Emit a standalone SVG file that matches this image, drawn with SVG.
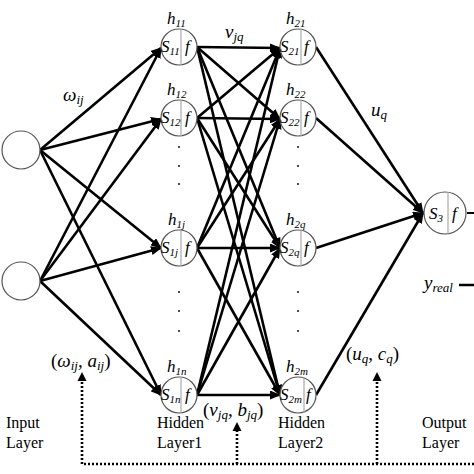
<svg xmlns="http://www.w3.org/2000/svg" width="474" height="474" viewBox="0 0 474 474">
<defs>
<marker id="ah" markerUnits="userSpaceOnUse" markerWidth="11" markerHeight="9" refX="10" refY="4.5" orient="auto">
<path d="M0,0 L11,4.5 L0,9 z" fill="#000"/>
</marker>
<style>
.nd{fill:#fff;stroke:#555;stroke-width:1.2}
.dv{stroke:#aaa;stroke-width:1.2}
.e{stroke:#000;stroke-width:2.6;fill:none;marker-end:url(#ah)}
.fb{stroke:#000;stroke-width:2.6;fill:none;stroke-dasharray:2 2}
.m{font-family:"Liberation Serif",serif;font-style:italic;font-size:17px;fill:#000}
.L{font-size:19px}
.t{font-family:"Liberation Serif",serif;font-size:16px;fill:#000}
.s{font-size:11px}
.sL{font-size:13px}
.dot{fill:#222}
</style>
</defs>

<g id="connectors">
<line class="e" x1="40" y1="150" x2="161" y2="48"/>
<line class="e" x1="40" y1="150" x2="161" y2="119"/>
<line class="e" x1="40" y1="150" x2="161" y2="248"/>
<line class="e" x1="40" y1="150" x2="161" y2="395"/>
<line class="e" x1="40" y1="281" x2="161" y2="48"/>
<line class="e" x1="40" y1="281" x2="161" y2="119"/>
<line class="e" x1="40" y1="281" x2="161" y2="248"/>
<line class="e" x1="40" y1="281" x2="161" y2="395"/>
<line class="e" x1="197" y1="47" x2="280" y2="48"/>
<line class="e" x1="197" y1="47" x2="280" y2="119"/>
<line class="e" x1="197" y1="47" x2="280" y2="248"/>
<line class="e" x1="197" y1="47" x2="280" y2="395"/>
<line class="e" x1="197" y1="118" x2="280" y2="48"/>
<line class="e" x1="197" y1="118" x2="280" y2="119"/>
<line class="e" x1="197" y1="118" x2="280" y2="248"/>
<line class="e" x1="197" y1="118" x2="280" y2="395"/>
<line class="e" x1="197" y1="248" x2="280" y2="48"/>
<line class="e" x1="197" y1="248" x2="280" y2="119"/>
<line class="e" x1="197" y1="248" x2="280" y2="248"/>
<line class="e" x1="197" y1="248" x2="280" y2="395"/>
<line class="e" x1="197" y1="395" x2="280" y2="48"/>
<line class="e" x1="197" y1="395" x2="280" y2="119"/>
<line class="e" x1="197" y1="395" x2="280" y2="248"/>
<line class="e" x1="197" y1="395" x2="280" y2="395"/>
<line class="e" x1="316" y1="47" x2="423" y2="213"/>
<line class="e" x1="316" y1="118" x2="423" y2="213"/>
<line class="e" x1="316" y1="248" x2="423" y2="213"/>
<line class="e" x1="316" y1="395" x2="423" y2="213"/>
<line x1="467" y1="213" x2="474" y2="213" stroke="#000" stroke-width="2"/>
<line x1="459" y1="285" x2="474" y2="285" stroke="#000" stroke-width="2.5"/>
<polyline class="fb" points="474,464 82,464 82,380"/>
<line class="fb" x1="237" y1="464" x2="237" y2="430"/>
<line class="fb" x1="377" y1="464" x2="377" y2="380"/>
<path d="M77.5,381 L82,372 L86.5,381 z" fill="#000"/>
<path d="M232.5,431 L237,422 L241.5,431 z" fill="#000"/>
<path d="M372.5,381 L377,372 L381.5,381 z" fill="#000"/>
</g>

<g id="in1"><circle class="nd" cx="21" cy="150" r="19"/></g>
<g id="in2"><circle class="nd" cx="21" cy="281" r="19"/></g>

<g id="h11">
<circle class="nd" cx="179" cy="47" r="18"/><line class="dv" x1="181" y1="29" x2="181" y2="65"/>
<text class="m" x="161" y="52">S<tspan class="s" dy="3">11</tspan></text><text class="m" x="185" y="52">f</text>
<text class="m" x="167" y="24">h<tspan class="s" dy="3">11</tspan></text>
</g>
<g id="h12">
<circle class="nd" cx="179" cy="118" r="18"/><line class="dv" x1="181" y1="100" x2="181" y2="136"/>
<text class="m" x="161" y="123">S<tspan class="s" dy="3">12</tspan></text><text class="m" x="185" y="123">f</text>
<text class="m" x="167" y="95">h<tspan class="s" dy="3">12</tspan></text>
</g>
<g id="h1j">
<circle class="nd" cx="179" cy="248" r="18"/><line class="dv" x1="181" y1="230" x2="181" y2="266"/>
<text class="m" x="161" y="253">S<tspan class="s" dy="3">1j</tspan></text><text class="m" x="185" y="253">f</text>
<text class="m" x="168" y="225">h<tspan class="s" dy="3">1j</tspan></text>
</g>
<g id="h1n">
<circle class="nd" cx="179" cy="395" r="18"/><line class="dv" x1="181" y1="377" x2="181" y2="413"/>
<text class="m" x="161" y="400">S<tspan class="s" dy="3">1n</tspan></text><text class="m" x="185" y="400">f</text>
<text class="m" x="167" y="372">h<tspan class="s" dy="3">1n</tspan></text>
</g>

<g id="h21">
<circle class="nd" cx="298" cy="47" r="18"/><line class="dv" x1="301" y1="29" x2="301" y2="65"/>
<text class="m" x="280" y="52">S<tspan class="s" dy="3">21</tspan></text><text class="m" x="304" y="52">f</text>
<text class="m" x="286" y="24">h<tspan class="s" dy="3">21</tspan></text>
</g>
<g id="h22">
<circle class="nd" cx="298" cy="118" r="18"/><line class="dv" x1="301" y1="100" x2="301" y2="136"/>
<text class="m" x="280" y="123">S<tspan class="s" dy="3">22</tspan></text><text class="m" x="304" y="123">f</text>
<text class="m" x="286" y="95">h<tspan class="s" dy="3">22</tspan></text>
</g>
<g id="h2q">
<circle class="nd" cx="298" cy="248" r="18"/><line class="dv" x1="301" y1="230" x2="301" y2="266"/>
<text class="m" x="280" y="253">S<tspan class="s" dy="3">2q</tspan></text><text class="m" x="304" y="253">f</text>
<text class="m" x="286" y="225">h<tspan class="s" dy="3">2q</tspan></text>
</g>
<g id="h2m">
<circle class="nd" cx="298" cy="395" r="18"/><line class="dv" x1="304" y1="377" x2="304" y2="413"/>
<text class="m" x="280" y="400">S<tspan class="s" dy="3">2m</tspan></text><text class="m" x="306" y="400">f</text>
<text class="m" x="286" y="372">h<tspan class="s" dy="3">2m</tspan></text>
</g>

<g id="out">
<circle class="nd" cx="445" cy="213" r="21"/><line class="dv" x1="448" y1="192" x2="448" y2="234"/>
<text class="m" x="429" y="219">S<tspan class="s" dy="3">3</tspan></text><text class="m" x="452" y="219">f</text>
</g>

<g id="dots">
<circle class="dot" cx="179" cy="147" r="1.1"/><circle class="dot" cx="179" cy="166" r="1.1"/><circle class="dot" cx="179" cy="184" r="1.1"/>
<circle class="dot" cx="179" cy="292" r="1.1"/><circle class="dot" cx="179" cy="311" r="1.1"/><circle class="dot" cx="179" cy="331" r="1.1"/>
<circle class="dot" cx="298" cy="147" r="1.1"/><circle class="dot" cx="298" cy="166" r="1.1"/><circle class="dot" cx="298" cy="184" r="1.1"/>
<circle class="dot" cx="298" cy="292" r="1.1"/><circle class="dot" cx="298" cy="311" r="1.1"/><circle class="dot" cx="298" cy="331" r="1.1"/>
</g>

<g id="labels">
<text class="m L" x="63" y="101">ω<tspan class="sL" dy="3">ij</tspan></text>
<text class="m L" x="225" y="38">v<tspan class="sL" dy="3">jq</tspan></text>
<text class="m L" x="371" y="116">u<tspan class="sL" dy="3">q</tspan></text>
<text class="m L" x="51" y="367"><tspan font-style="normal">(</tspan>ω<tspan class="sL" dy="3">ij</tspan><tspan dy="-3">, a</tspan><tspan class="sL" dy="3">ij</tspan><tspan font-style="normal" dy="-3">)</tspan></text>
<text class="m L" x="203" y="416"><tspan font-style="normal">(</tspan>v<tspan class="sL" dy="3">jq</tspan><tspan dy="-3">, b</tspan><tspan class="sL" dy="3">jq</tspan><tspan font-style="normal" dy="-3">)</tspan></text>
<text class="m L" x="346" y="360"><tspan font-style="normal">(</tspan>u<tspan class="sL" dy="3">q</tspan><tspan dy="-3">, c</tspan><tspan class="sL" dy="3">q</tspan><tspan font-style="normal" dy="-3">)</tspan></text>
<text class="m L" x="424" y="289">y<tspan class="sL" dy="3">real</tspan></text>
<text class="t" x="6" y="428">Input</text><text class="t" x="6" y="448">Layer</text>
<text class="t" x="157" y="428">Hidden</text><text class="t" x="157" y="448">Layer1</text>
<text class="t" x="278" y="428">Hidden</text><text class="t" x="278" y="448">Layer2</text>
<text class="t" x="422" y="428">Output</text><text class="t" x="422" y="448">Layer</text>
</g>
</svg>
